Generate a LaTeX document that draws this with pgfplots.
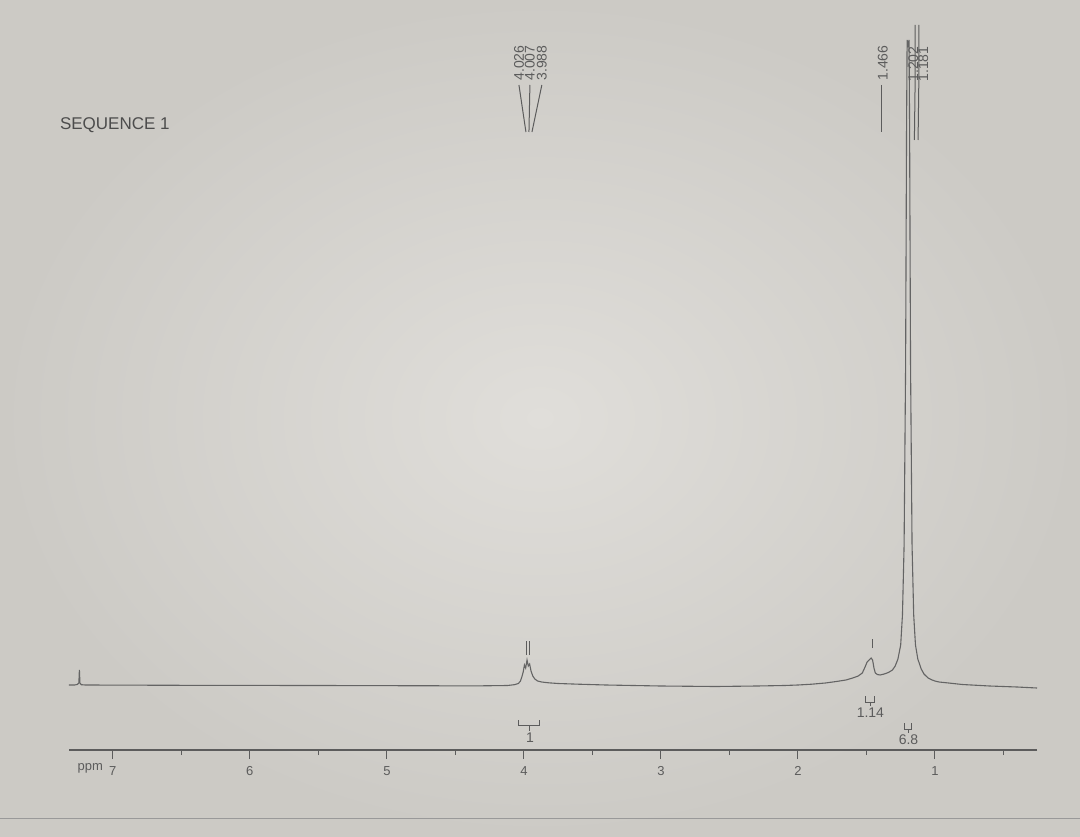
\documentclass[border=0pt]{standalone}
\usepackage{pgfplots}
\pgfplotsset{compat=1.18}
\usepackage{fontspec}
\setmainfont{Liberation Sans}
\definecolor{bgin}{RGB}{224,222,218}
\definecolor{bgout}{RGB}{204,202,197}
\definecolor{ink}{RGB}{92,92,92}
\definecolor{spec}{RGB}{100,100,100}
\tikzset{lab/.style={rotate=90, anchor=west, font=\fontsize{7}{8}\selectfont, text=ink, inner sep=0.5pt}}
\begin{document}
\begin{tikzpicture}[x=1pt,y=1pt]
\useasboundingbox (0,0) rectangle (540,418);
\shade[inner color=bgin, outer color=bgout] (0,0) rectangle (540,418);
\draw[color=black!40, line width=0.5pt] (0,9) -- (540,9);
\node[anchor=west, font=\fontsize{8.5}{10}\selectfont, text=black!70] at (26.5,355.5) {SEQUENCE 1};
\begin{axis}[
  at={(34.5pt,43pt)}, anchor=south west,
  scale only axis, width=484pt, height=360pt,
  x dir=reverse, xmin=0.255, xmax=7.32, ymin=-65, ymax=655,
  axis x line=bottom, axis y line=none,
  axis line style={-, ink, line width=0.6pt},
  xtick={1,2,3,4,5,6,7}, minor xtick={0.5,1.5,2.5,3.5,4.5,5.5,6.5},
  tick align=outside, major tick length=4.5pt, minor tick length=2.5pt,
  every tick/.style={ink, line width=0.5pt},
  xticklabel style={font=\fontsize{6.5}{8}\selectfont, text=ink},
  /pgf/number format/assume math mode=true,
  clip=false,
]
\addplot[spec, line width=0.55pt] coordinates {
(7.32,0) (7.28,0) (7.26,0.5) (7.248,2) (7.244,15) (7.240,2) (7.23,0.3) (7.20,0)
(6.5,-0.3) (5.5,-0.5) (4.6,-0.8) (4.3,-0.8) (4.12,-0.5) (4.07,0.3) (4.04,1.5)
(4.025,4) (4.015,8) (4.005,13) (3.996,20) (3.987,17) (3.977,25) (3.968,19)
(3.958,21) (3.948,14) (3.935,9) (3.92,6) (3.90,4) (3.87,3) (3.82,2.2)
(3.75,1.5) (3.6,0.8) (3.4,0) (3.2,-0.5) (3.0,-1) (2.6,-1.5) (2.3,-1)
(2.1,-0.5) (2.0,0) (1.9,0.8) (1.8,2) (1.72,3.5) (1.65,5) (1.60,7) (1.56,9)
(1.53,12) (1.51,18) (1.495,23) (1.48,25) (1.466,27) (1.455,25) (1.445,17)
(1.435,12) (1.42,10.5) (1.40,10) (1.37,11) (1.34,12.5) (1.31,15) (1.29,19)
(1.27,26) (1.25,40) (1.237,70) (1.225,140) (1.214,320) (1.207,560)
(1.203,645) (1.196,640) (1.189,645) (1.185,560) (1.178,320) (1.167,140)
(1.155,70) (1.142,40) (1.125,26) (1.10,16) (1.08,11) (1.05,7)
(1.02,5) (1.00,4) (0.97,3) (0.9,2) (0.8,0.5) (0.6,-1) (0.4,-2) (0.255,-3)
};
% ppm label
\node[anchor=east, font=\fontsize{6.5}{8}\selectfont, text=ink, inner sep=0pt] at (axis cs:7.07,-83) {ppm};
% peak labels 4.0 group
\node[lab] at (axis cs:4.036,603) {4.026};
\node[lab] at (axis cs:3.956,603) {4.007};
\node[lab] at (axis cs:3.869,603) {3.988};
\draw[ink, line width=0.5pt] (axis cs:4.036,600) -- (axis cs:3.985,553);
\draw[ink, line width=0.5pt] (axis cs:3.956,600) -- (axis cs:3.963,553);
\draw[ink, line width=0.5pt] (axis cs:3.869,600) -- (axis cs:3.941,553);
% 1.466
\node[lab] at (axis cs:1.380,603) {1.466};
\draw[ink, line width=0.5pt] (axis cs:1.387,600) -- (axis cs:1.387,553);
% 1.202 / 1.181
\node[lab] at (axis cs:1.158,602) {1.202};
\node[lab] at (axis cs:1.085,602) {1.181};
\draw[ink, line width=0.5pt] (axis cs:1.145,660) -- (axis cs:1.145,598) -- (axis cs:1.150,545);
\draw[ink, line width=0.5pt] (axis cs:1.118,660) -- (axis cs:1.118,598) -- (axis cs:1.123,545);
% peak top marks
\draw[ink, line width=0.4pt] (axis cs:3.985,30) -- (axis cs:3.985,44);
\draw[ink, line width=0.4pt] (axis cs:3.963,30) -- (axis cs:3.963,44);
\draw[ink, line width=0.4pt] (axis cs:1.460,37) -- (axis cs:1.460,46);
% integrals
\draw[ink, line width=0.5pt] (axis cs:4.036,-35) -- (axis cs:4.036,-40) -- (axis cs:3.883,-40) -- (axis cs:3.883,-35);
\draw[ink, line width=0.5pt] (axis cs:3.960,-40) -- (axis cs:3.960,-46);
\node[font=\fontsize{7}{8}\selectfont, text=ink] at (axis cs:3.956,-53) {1};
\draw[ink, line width=0.5pt] (axis cs:1.504,-11) -- (axis cs:1.504,-17) -- (axis cs:1.438,-17) -- (axis cs:1.438,-11);
\draw[ink, line width=0.5pt] (axis cs:1.471,-17) -- (axis cs:1.471,-21);
\node[font=\fontsize{7}{8}\selectfont, text=ink] at (axis cs:1.471,-28) {1.14};
\draw[ink, line width=0.5pt] (axis cs:1.219,-38) -- (axis cs:1.219,-44) -- (axis cs:1.168,-44) -- (axis cs:1.168,-38);
\draw[ink, line width=0.5pt] (axis cs:1.193,-44) -- (axis cs:1.193,-48);
\node[font=\fontsize{7}{8}\selectfont, text=ink] at (axis cs:1.193,-55) {6.8};
\end{axis}
\end{tikzpicture}
\end{document}
